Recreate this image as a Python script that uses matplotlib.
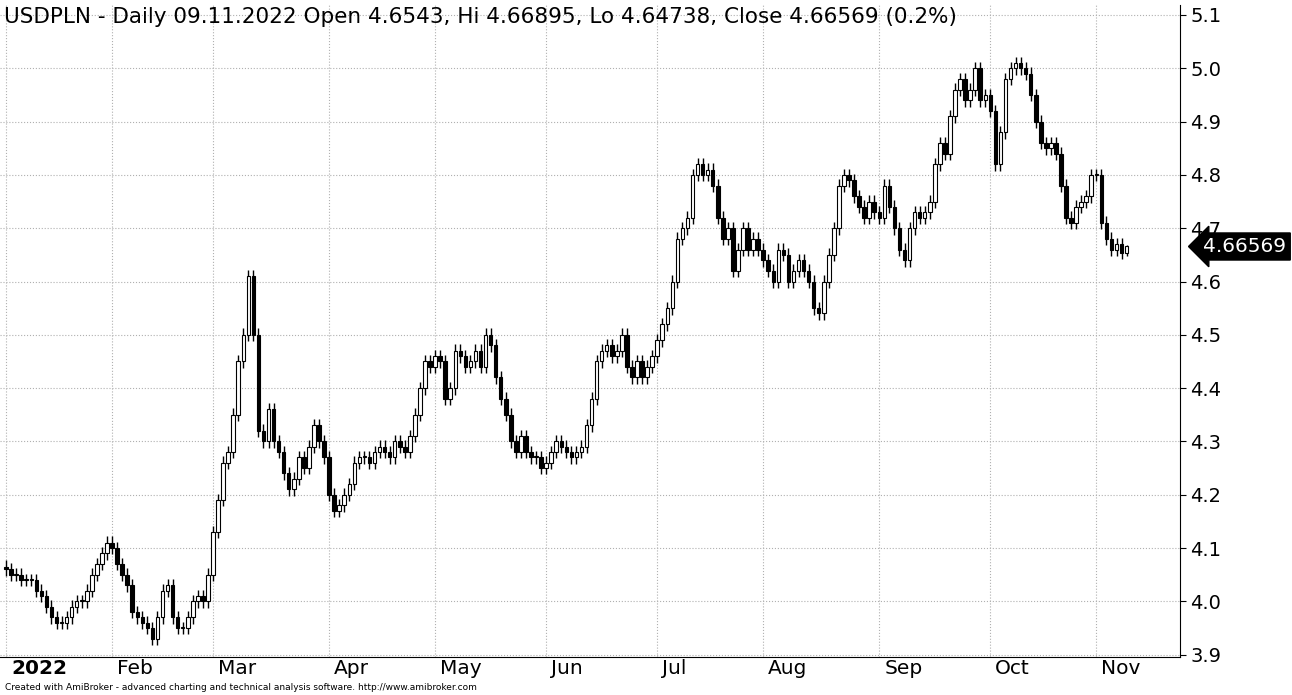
import matplotlib
matplotlib.use("Agg")
import matplotlib.pyplot as plt
import pandas as pd

# daily closes, Jan 3 .. Nov 9 2022
jan = [4.06, 4.05, 4.05, 4.04, 4.04, 4.04, 4.02, 4.01, 3.99, 3.97, 3.96, 3.96, 3.97, 3.99, 4.00, 4.00, 4.02, 4.05, 4.07, 4.09, 4.11]
feb = [4.10, 4.07, 4.05, 4.03, 3.98, 3.97, 3.96, 3.95, 3.93, 3.97, 4.02, 4.03, 3.97, 3.95, 3.95, 3.97, 4.00, 4.01, 4.00, 4.05]
mar = [4.13, 4.19, 4.26, 4.28, 4.35, 4.45, 4.50, 4.61, 4.50, 4.32, 4.30, 4.36, 4.30, 4.28, 4.24, 4.21, 4.23, 4.27, 4.25, 4.29, 4.33, 4.30, 4.27]
apr = [4.20, 4.17, 4.18, 4.20, 4.22, 4.26, 4.27, 4.27, 4.26, 4.28, 4.29, 4.28, 4.27, 4.30, 4.29, 4.28, 4.31, 4.35, 4.40, 4.45, 4.44]
may = [4.46, 4.45, 4.38, 4.40, 4.47, 4.46, 4.44, 4.45, 4.47, 4.44, 4.50, 4.48, 4.42, 4.38, 4.35, 4.30, 4.28, 4.31, 4.28, 4.27, 4.27, 4.25]
jun = [4.26, 4.28, 4.30, 4.29, 4.28, 4.27, 4.28, 4.29, 4.33, 4.38, 4.45, 4.47, 4.48, 4.46, 4.47, 4.50, 4.44, 4.42, 4.45, 4.42, 4.44, 4.46]
jul = [4.49, 4.52, 4.55, 4.60, 4.68, 4.70, 4.72, 4.80, 4.82, 4.80, 4.81, 4.78, 4.72, 4.68, 4.70, 4.62, 4.66, 4.70, 4.66, 4.68, 4.66]
aug = [4.64, 4.62, 4.60, 4.66, 4.65, 4.60, 4.62, 4.64, 4.62, 4.60, 4.55, 4.54, 4.60, 4.65, 4.70, 4.78, 4.80, 4.79, 4.76, 4.74, 4.72, 4.75, 4.73]
sep = [4.72, 4.78, 4.74, 4.70, 4.66, 4.64, 4.70, 4.73, 4.72, 4.73, 4.75, 4.82, 4.86, 4.84, 4.91, 4.96, 4.98, 4.94, 4.96, 5.00, 4.94, 4.95]
oct_ = [4.92, 4.82, 4.88, 4.98, 5.00, 5.01, 5.00, 4.99, 4.95, 4.90, 4.86, 4.85, 4.86, 4.84, 4.78, 4.72, 4.71, 4.74, 4.75, 4.76, 4.80]
nov = [4.80, 4.71, 4.68, 4.66, 4.67, 4.6543, 4.66569]

closes = jan + feb + mar + apr + may + jun + jul + aug + sep + oct_ + nov
opens = [4.065] + closes[:-1]
wick = 0.012
month_labels = ["2022", "Feb", "Mar", "Apr", "May", "Jun", "Jul", "Aug", "Sep", "Oct", "Nov"]
yticks = [3.9, 4.0, 4.1, 4.2, 4.3, 4.4, 4.5, 4.6, 4.7, 4.8, 4.9, 5.0, 5.1]

dates = pd.bdate_range("2022-01-03", periods=len(closes))
n = len(closes)

fig = plt.figure(figsize=(12.92, 6.95), dpi=100)
ax = fig.add_axes([0.0, 0.055, 0.913, 0.938])

for i, (o, c) in enumerate(zip(opens, closes)):
    hi, lo = max(o, c) + wick, min(o, c) - wick
    if i == n - 1:
        hi, lo = 4.66895, 4.64738
    ax.vlines(i, lo, hi, color="black", lw=1, zorder=2)
    up = c >= o
    h = max(abs(c - o), 0.002)
    ax.bar(i, h, bottom=min(o, c), width=0.7,
           color="white" if up else "black", edgecolor="black", lw=0.8, zorder=3)

ax.set_xlim(-1.2, 232.5)
ax.set_ylim(3.896, 5.119)

# month starts
starts = [0] + [i for i in range(1, n) if dates[i].month != dates[i - 1].month]
ax.set_xticks(starts)
ax.set_xticklabels([])
for s, lab in zip(starts, month_labels):
    ax.text(s + 1.0, -0.004, lab, transform=ax.get_xaxis_transform(), ha="left", va="top",
            fontsize=14.5, fontweight="bold" if lab == "2022" else "normal")
ax.tick_params(axis="x", length=0)

ax.yaxis.tick_right()
ax.set_yticks(yticks)
ax.set_yticklabels([f"{v:.1f}" for v in yticks], fontsize=14)
ax.tick_params(axis="y", length=4)
ax.grid(True, color="#b0b0b0", linestyle=":", lw=0.8)
for sp in ["top", "left"]:
    ax.spines[sp].set_visible(False)

ax.text(0.003, 0.997, "USDPLN - Daily 09.11.2022 Open 4.6543, Hi 4.66895, Lo 4.64738, Close 4.66569 (0.2%)",
        transform=ax.transAxes, ha="left", va="top", fontsize=15.5)

last = closes[-1]
ax.annotate(f"{last:.5f}", xy=(1.0, last), xycoords=("axes fraction", "data"),
            xytext=(17, 0), textcoords="offset points", ha="left", va="center",
            fontsize=14.5, color="white",
            bbox=dict(boxstyle="larrow,pad=0.2", fc="black", ec="black"),
            annotation_clip=False)

fig.text(0.004, 0.004, "Created with AmiBroker - advanced charting and technical analysis software. http://www.amibroker.com",
         fontsize=6.5, ha="left", va="bottom")

fig.savefig("out.png", dpi=100)
